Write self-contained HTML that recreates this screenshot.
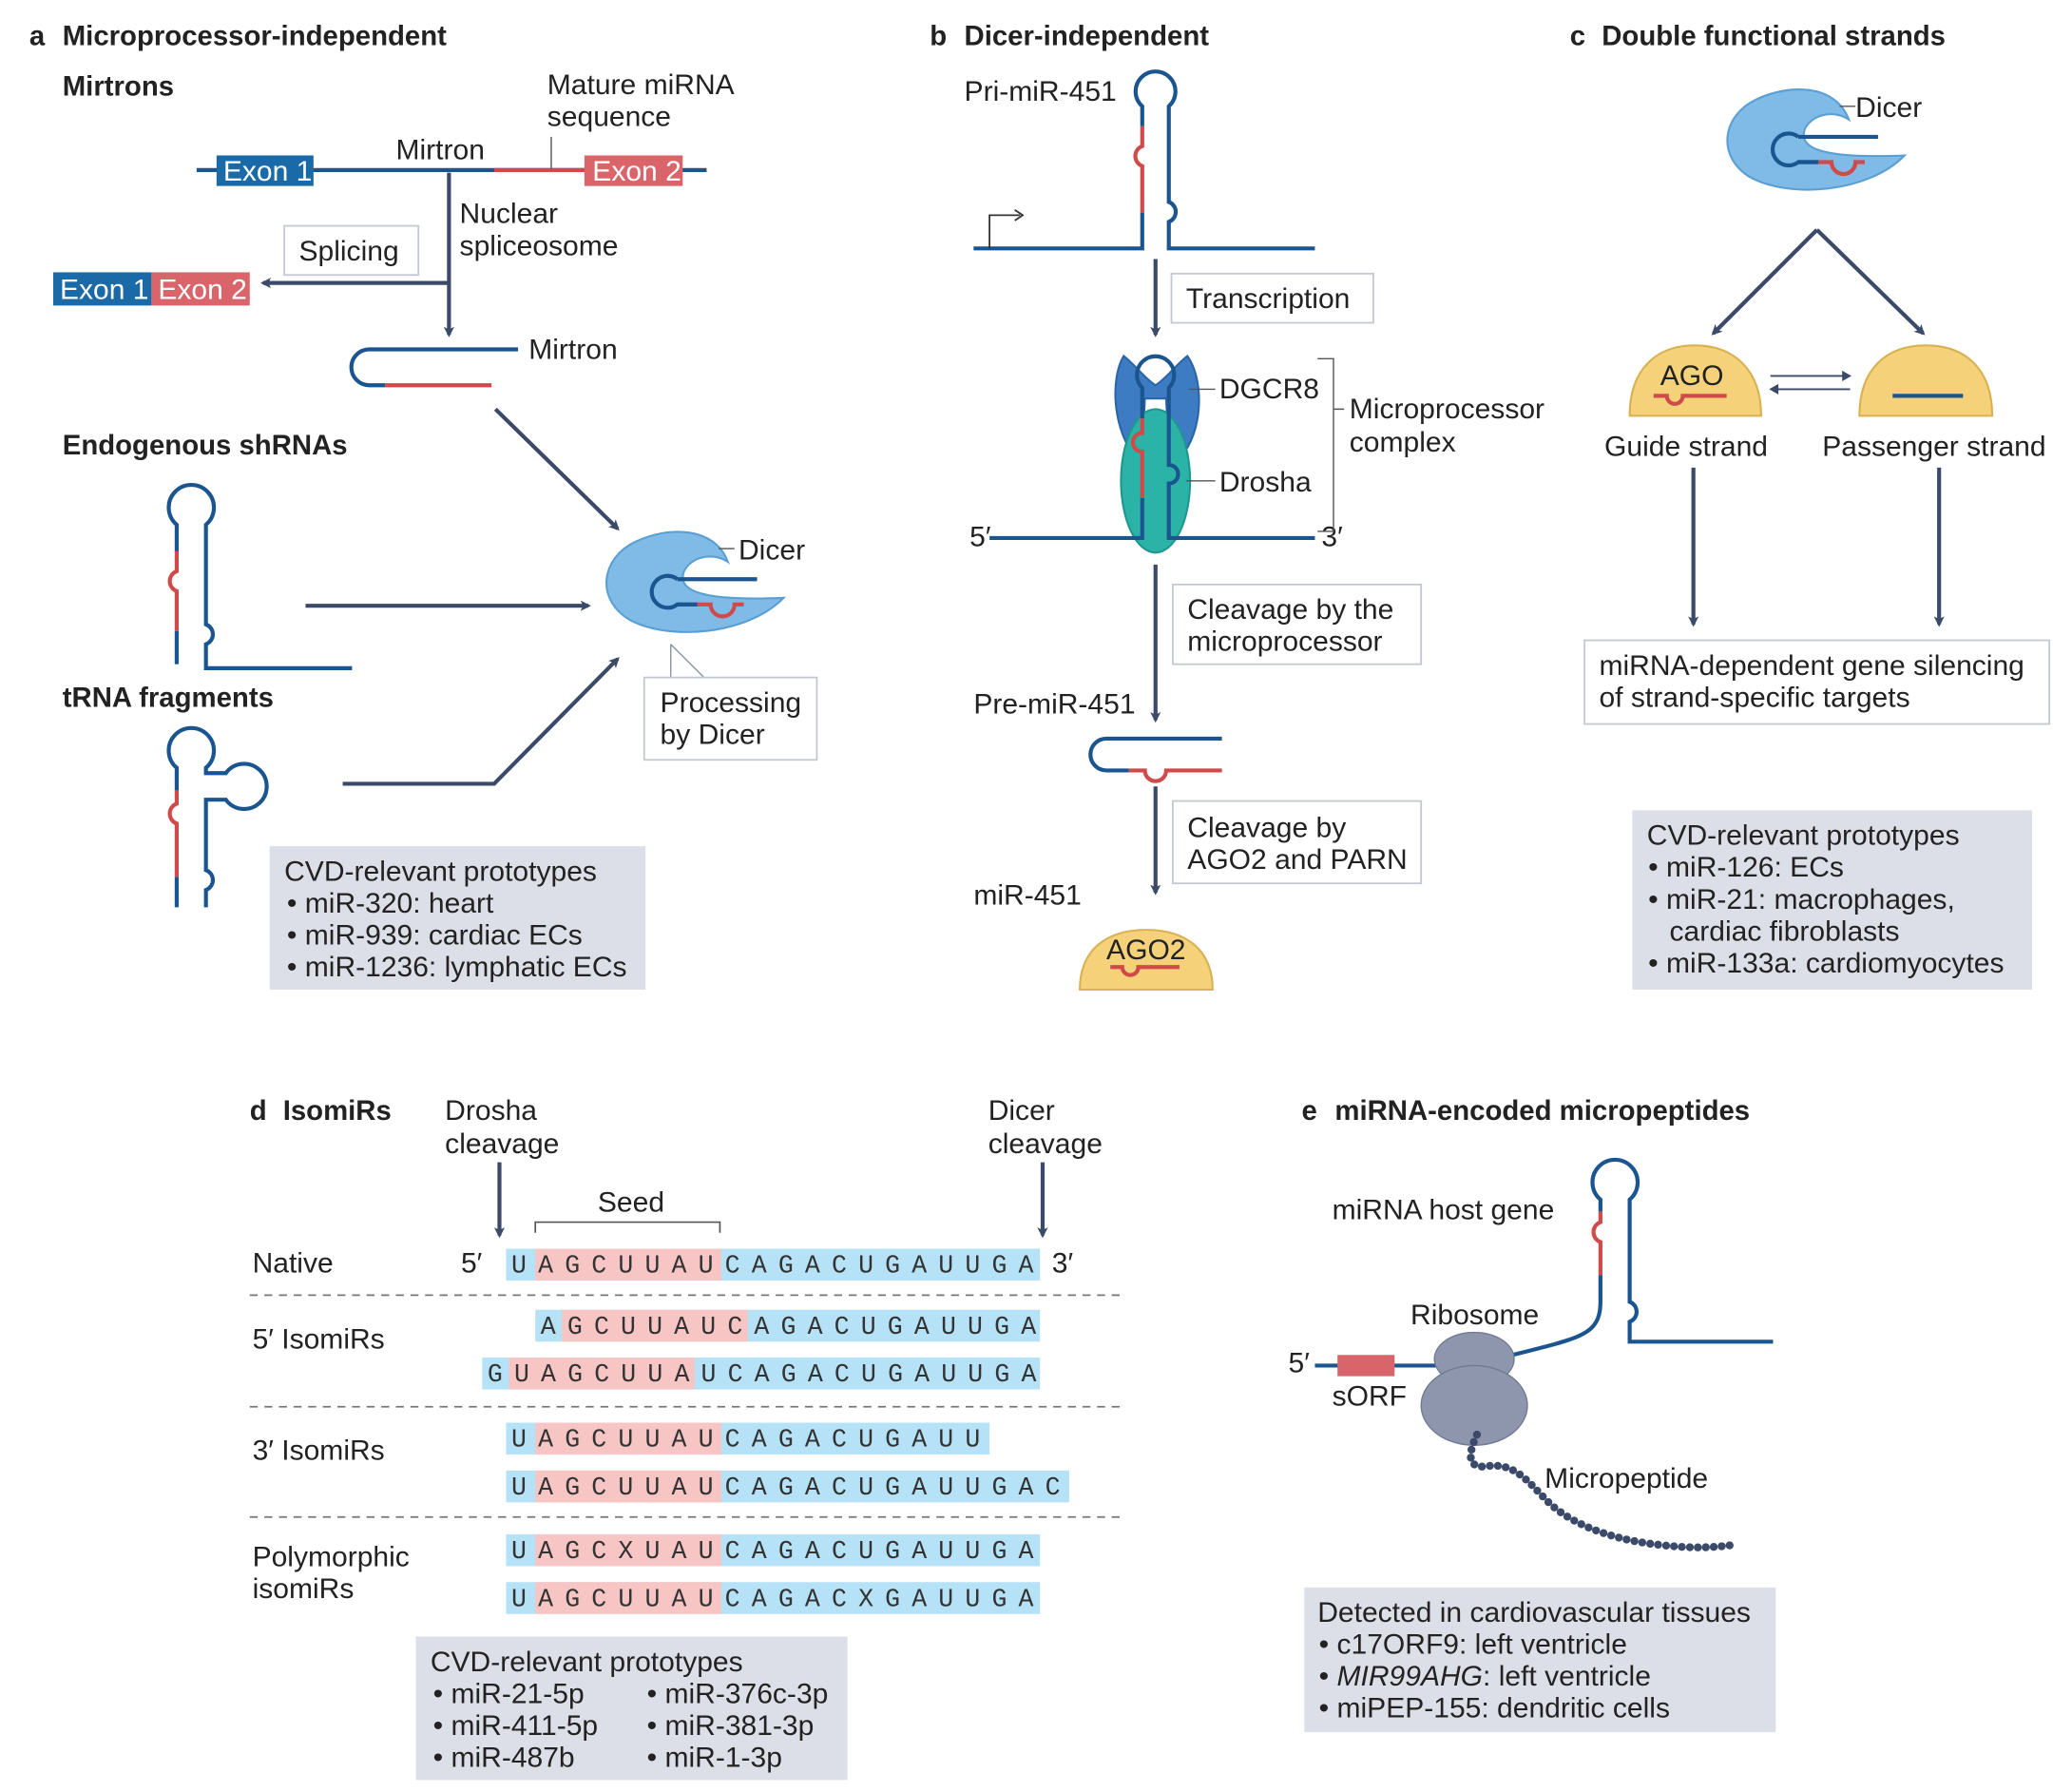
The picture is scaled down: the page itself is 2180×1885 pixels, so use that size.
<!DOCTYPE html>
<html><head><meta charset="utf-8"><style>
html,body{margin:0;padding:0;background:#fff}
svg{display:block}
text{font-family:"Liberation Sans",sans-serif;font-size:21.5px;fill:#222}
.b{font-weight:bold;font-size:21px}
.seq{font-family:"Liberation Mono",monospace;font-size:19px;letter-spacing:8.7px;fill:#333}
.bl{fill:none;stroke:#1b5590;stroke-width:3}
.rd{fill:none;stroke:#d04a4a;stroke-width:3}
.ar{fill:none;stroke:#3b4a68;stroke-width:3}
.bx{fill:#fff;stroke:#c4c8d2;stroke-width:1.3}
.gb{fill:#dcdfe7}
</style></head><body>
<svg width="2180" height="1885" viewBox="0 0 1560 1349" xmlns="http://www.w3.org/2000/svg">
<defs>
<marker id="ah" markerWidth="8" markerHeight="8" refX="6" refY="4" orient="auto" markerUnits="userSpaceOnUse" viewBox="0 0 8 8"><path d="M0,0 L8,4 L0,8 L2,4 Z" fill="#3b4a68"/></marker>
<g id="dicer">
<path d="M137,52 C110,80 50,85 20,68 C-5,52 0,22 25,10 C50,-2 85,-2 95,25 C85,18 68,20 62,32 C57,45 70,55 137,52 Z" fill="#7fbbe6" stroke="#5a9fd4" stroke-width="1.5"/>
<path d="M117,38 L57,38 M57,38 A12,12 0 1 0 57,57 L72,57" class="bl"/>
<path d="M72,57 L82,57 A9,9 0 0 0 100,57 L107,57" class="rd"/>
<path d="M57,57 L72,57" class="bl"/>
</g>
</defs>

<!-- Panel a -->
<text x="22" y="34" class="b">a</text><text x="47" y="34" class="b">Microprocessor-independent</text>
<text x="47" y="72" class="b">Mirtrons</text>
<line x1="148" y1="128" x2="532" y2="128" class="bl"/>
<line x1="372" y1="128" x2="440" y2="128" class="rd"/>
<rect x="163" y="117" width="73" height="23" fill="#1a6aa8"/><text x="168" y="136" style="fill:#fff">Exon 1</text>
<rect x="440" y="117" width="74" height="23" fill="#d9646a"/><text x="446" y="136" style="fill:#fff">Exon 2</text>
<text x="298" y="120">Mirtron</text>
<text x="412" y="71">Mature miRNA</text><text x="412" y="95">sequence</text>
<line x1="415" y1="103" x2="415" y2="127" stroke="#555" stroke-width="1"/>
<line x1="338" y1="130" x2="338" y2="252" class="ar" marker-end="url(#ah)"/>
<line x1="338" y1="213" x2="198" y2="213" class="ar" marker-end="url(#ah)"/>
<rect x="214" y="170" width="101" height="37" class="bx"/><text x="225" y="196">Splicing</text>
<text x="346" y="168">Nuclear</text><text x="346" y="192">spliceosome</text>
<rect x="40" y="205" width="74" height="25" fill="#1a6aa8"/><text x="45" y="225" style="fill:#fff">Exon 1</text>
<rect x="114" y="205" width="74" height="25" fill="#d9646a"/><text x="119" y="225" style="fill:#fff">Exon 2</text>
<path d="M390,263 L278,263 A13,13 0 0 0 278,290 L290,290" class="bl"/>
<line x1="290" y1="290" x2="370" y2="290" class="rd"/>
<text x="398" y="270">Mirtron</text>
<line x1="373" y1="308" x2="465" y2="398" class="ar" marker-end="url(#ah)"/>

<text x="47" y="342" class="b">Endogenous shRNAs</text>
<path d="M133,500 L133,475" class="bl"/>
<path d="M133,475 L133,445 A8,8 0 0 1 133,430 L133,415" class="rd"/>
<path d="M133,415 L133,395 A17,17 1 1 1 155,395 L155,470 A8,8 0 0 1 155,485 L155,503 L265,503" class="bl"/>
<line x1="230" y1="456" x2="443" y2="456" class="ar" marker-end="url(#ah)"/>

<text x="47" y="532" class="b">tRNA fragments</text>
<path d="M133,683 L133,660" class="bl"/>
<path d="M133,660 L133,620 A8,8 0 0 1 133,605 L133,595" class="rd"/>
<path d="M133,595 L133,578 A17,17 1 1 1 155,578 L155,582 L170,582 A17,17 0 1 1 170,602 L155,602 L155,655 A8,8 0 0 1 155,670 L155,683" class="bl"/>
<path d="M258,590 L372,590 L465,496" class="ar" marker-end="url(#ah)"/>

<use href="#dicer" x="453" y="398"/>
<line x1="541" y1="413" x2="553" y2="413" stroke="#555" stroke-width="1"/>
<text x="556" y="421">Dicer</text>
<path d="M505,485 L505,510 M505,485 L530,510" stroke="#8a93aa" stroke-width="1" fill="none"/>
<rect x="485" y="510" width="130" height="62" class="bx"/>
<text x="497" y="536">Processing</text><text x="497" y="560">by Dicer</text>
<rect x="203" y="637" width="283" height="108" class="gb"/>
<text x="214" y="663">CVD-relevant prototypes</text>
<text x="216" y="687">• miR-320: heart</text>
<text x="216" y="711">• miR-939: cardiac ECs</text>
<text x="216" y="735">• miR-1236: lymphatic ECs</text>

<!-- Panel b -->
<text x="700" y="34" class="b">b</text><text x="726" y="34" class="b">Dicer-independent</text>
<text x="726" y="76">Pri-miR-451</text>
<path d="M733,187 L860,187 L860,160" class="bl"/>
<path d="M860,160 L860,125 A8,8 0 0 1 860,110 L860,95" class="rd"/>
<path d="M860,95 L860,80 A15,15 1 1 1 880,80 L880,152 A8,8 0 0 1 880,167 L880,187 L990,187" class="bl"/>
<path d="M745,187 L745,162 L768,162" fill="none" stroke="#333" stroke-width="1.3"/><path d="M764,158 L770,162 L764,166" fill="none" stroke="#333" stroke-width="1.3"/>
<line x1="870" y1="195" x2="870" y2="252" class="ar" marker-end="url(#ah)"/>
<rect x="882" y="206" width="152" height="37" class="bx"/><text x="893" y="232">Transcription</text>
<path d="M846,268 C836,285 838,320 852,340 L860,340 L862,300 L878,300 L880,340 L892,340 C906,320 906,285 894,268 C885,275 878,285 870,290 C862,285 855,275 846,268 Z" fill="#3d7cc2" stroke="#2a65a8" stroke-width="1.5"/>
<ellipse cx="870" cy="362" rx="26" ry="54" fill="#2bb3a8" stroke="#1e978e" stroke-width="1.5"/>
<path d="M745,405 L860,405 L860,375" class="bl"/>
<path d="M860,375 L860,340 A7,7 0 0 1 860,326 L860,315" class="rd"/>
<path d="M860,315 L860,292 A14,14 1 1 1 880,292 L880,350 A7,7 0 0 1 880,364 L880,405 L990,405" class="bl"/>
<text x="730" y="411">5′</text><text x="995" y="411">3′</text>
<line x1="895" y1="293" x2="915" y2="293" stroke="#555" stroke-width="1"/><text x="918" y="300">DGCR8</text>
<line x1="893" y1="362" x2="915" y2="362" stroke="#555" stroke-width="1"/><text x="918" y="370">Drosha</text>
<path d="M992,270 L1004,270 L1004,400 L992,400 M1004,308 L1012,308" fill="none" stroke="#555" stroke-width="1"/>
<text x="1016" y="315">Microprocessor</text><text x="1016" y="340">complex</text>
<line x1="870" y1="425" x2="870" y2="542" class="ar" marker-end="url(#ah)"/>
<rect x="883" y="440" width="187" height="60" class="bx"/>
<text x="894" y="466">Cleavage by the</text><text x="894" y="490">microprocessor</text>
<text x="733" y="537">Pre-miR-451</text>
<path d="M920,556 L833,556 A12,12 0 0 0 833,580 L850,580" class="bl"/>
<path d="M850,580 L862,580 A8,8 0 0 0 878,580 L920,580" class="rd"/>
<line x1="870" y1="592" x2="870" y2="672" class="ar" marker-end="url(#ah)"/>
<rect x="883" y="603" width="187" height="62" class="bx"/>
<text x="894" y="630">Cleavage by</text><text x="894" y="654">AGO2 and PARN</text>
<text x="733" y="681">miR-451</text>
<path d="M813,745 L913,745 C913,715 893,700 863,700 C833,700 813,715 813,745 Z" fill="#f5d27a" stroke="#d9b052" stroke-width="1.5"/>
<text x="833" y="722">AGO2</text>
<path d="M836,728 L845,728 A6,6 0 0 0 857,728 L888,728" class="rd"/>

<!-- Panel c -->
<text x="1182" y="34" class="b">c</text><text x="1206" y="34" class="b">Double functional strands</text>
<use href="#dicer" x="1297" y="65"/>
<line x1="1385" y1="80" x2="1397" y2="80" stroke="#555" stroke-width="1"/>
<text x="1397" y="88">Dicer</text>
<line x1="1368" y1="173" x2="1290" y2="251" class="ar" marker-end="url(#ah)"/>
<line x1="1368" y1="173" x2="1448" y2="251" class="ar" marker-end="url(#ah)"/>
<path d="M1227,313 L1326,313 C1326,278 1305,260 1276,260 C1247,260 1227,278 1227,313 Z" fill="#f5d27a" stroke="#d9b052" stroke-width="1.5"/>
<text x="1250" y="290">AGO</text>
<path d="M1245,298 L1255,298 A6,6 0 0 0 1267,298 L1300,298" class="rd"/>
<path d="M1400,313 L1500,313 C1500,278 1480,260 1450,260 C1420,260 1400,278 1400,313 Z" fill="#f5d27a" stroke="#d9b052" stroke-width="1.5"/>
<line x1="1425" y1="298" x2="1478" y2="298" class="bl"/>
<line x1="1333" y1="283" x2="1393" y2="283" stroke="#3b4a68" stroke-width="1.3"/><path d="M1387,279 L1394,283 L1387,287" fill="#3b4a68"/>
<line x1="1333" y1="293" x2="1393" y2="293" stroke="#3b4a68" stroke-width="1.3"/><path d="M1339,289 L1332,293 L1339,297" fill="#3b4a68"/>
<text x="1208" y="343">Guide strand</text><text x="1372" y="343">Passenger strand</text>
<line x1="1275" y1="352" x2="1275" y2="470" class="ar" marker-end="url(#ah)"/>
<line x1="1460" y1="352" x2="1460" y2="470" class="ar" marker-end="url(#ah)"/>
<rect x="1193" y="482" width="350" height="63" class="bx"/>
<text x="1204" y="508">miRNA-dependent gene silencing</text><text x="1204" y="532">of strand-specific targets</text>
<rect x="1229" y="610" width="301" height="135" class="gb"/>
<text x="1240" y="636">CVD-relevant prototypes</text>
<text x="1241" y="660">• miR-126: ECs</text>
<text x="1241" y="684">• miR-21: macrophages,</text>
<text x="1257" y="708">cardiac fibroblasts</text>
<text x="1241" y="732">• miR-133a: cardiomyocytes</text>

<!-- Panel d -->
<text x="188" y="843" class="b">d</text><text x="213" y="843" class="b">IsomiRs</text>
<text x="335" y="843">Drosha</text><text x="335" y="868">cleavage</text>
<line x1="376" y1="875" x2="376" y2="930" class="ar" stroke-width="2" marker-end="url(#ah)"/>
<text x="744" y="843">Dicer</text><text x="744" y="868">cleavage</text>
<line x1="785" y1="875" x2="785" y2="930" class="ar" stroke-width="2" marker-end="url(#ah)"/>
<path d="M403,928 L403,920 L542,920 L542,928" fill="none" stroke="#555" stroke-width="1.2"/>
<text x="450" y="912">Seed</text>
<g stroke="#777" stroke-width="1.3" stroke-dasharray="6,5">
<line x1="188" y1="975" x2="848" y2="975"/><line x1="188" y1="1059" x2="848" y2="1059"/><line x1="188" y1="1142" x2="848" y2="1142"/>
</g>
<text x="190" y="958">Native</text><text x="347" y="958">5′</text><text x="792" y="958">3′</text>
<text x="190" y="1015">5′ IsomiRs</text>
<text x="190" y="1099">3′ IsomiRs</text>
<text x="190" y="1179">Polymorphic</text><text x="190" y="1203">isomiRs</text>

<rect x="381" y="940" width="402" height="24" fill="#b6e2f7"/><rect x="403" y="940" width="140" height="24" fill="#f7c6c4"/>
<text x="385" y="958" class="seq">UAGCUUAUCAGACUGAUUGA</text>
<rect x="403" y="986" width="380" height="24" fill="#b6e2f7"/><rect x="423" y="986" width="140" height="24" fill="#f7c6c4"/>
<text x="407" y="1004" class="seq">AGCUUAUCAGACUGAUUGA</text>
<rect x="363" y="1022" width="420" height="24" fill="#b6e2f7"/><rect x="383" y="1022" width="140" height="24" fill="#f7c6c4"/>
<text x="367" y="1040" class="seq">GUAGCUUAUCAGACUGAUUGA</text>
<rect x="381" y="1071" width="364" height="24" fill="#b6e2f7"/><rect x="403" y="1071" width="140" height="24" fill="#f7c6c4"/>
<text x="385" y="1089" class="seq">UAGCUUAUCAGACUGAUU</text>
<rect x="381" y="1107" width="424" height="24" fill="#b6e2f7"/><rect x="403" y="1107" width="140" height="24" fill="#f7c6c4"/>
<text x="385" y="1125" class="seq">UAGCUUAUCAGACUGAUUGAC</text>
<rect x="381" y="1155" width="402" height="24" fill="#b6e2f7"/><rect x="403" y="1155" width="140" height="24" fill="#f7c6c4"/>
<text x="385" y="1173" class="seq">UAGCXUAUCAGACUGAUUGA</text>
<rect x="381" y="1191" width="402" height="24" fill="#b6e2f7"/><rect x="403" y="1191" width="140" height="24" fill="#f7c6c4"/>
<text x="385" y="1209" class="seq">UAGCUUAUCAGACXGAUUGA</text>

<rect x="313" y="1232" width="325" height="108" class="gb"/>
<text x="324" y="1258">CVD-relevant prototypes</text>
<text x="326" y="1282">• miR-21-5p</text><text x="487" y="1282">• miR-376c-3p</text>
<text x="326" y="1306">• miR-411-5p</text><text x="487" y="1306">• miR-381-3p</text>
<text x="326" y="1330">• miR-487b</text><text x="487" y="1330">• miR-1-3p</text>

<!-- Panel e -->
<text x="980" y="843" class="b">e</text><text x="1005" y="843" class="b">miRNA-encoded micropeptides</text>
<text x="1003" y="918">miRNA host gene</text>
<path d="M990,1028 L1080,1028 C1110,1028 1140,1020 1170,1012 C1195,1005 1205,1000 1205,980 L1205,960" class="bl"/>
<path d="M1205,960 L1205,935 A8,8 0 0 1 1205,920 L1205,912" class="rd"/>
<path d="M1205,912 L1205,903 A17,17 1 1 1 1227,903 L1227,980 A8,8 0 0 1 1227,995 L1227,1010 L1335,1010" class="bl"/>
<rect x="1007" y="1020" width="43" height="16" fill="#d9646a"/>
<text x="970" y="1033">5′</text><text x="1003" y="1058">sORF</text>
<text x="1062" y="997">Ribosome</text>
<ellipse cx="1110" cy="1023" rx="30" ry="20" fill="#8e96ad" stroke="#717a92" stroke-width="1"/>
<ellipse cx="1110" cy="1058" rx="40" ry="30" fill="#8e96ad" stroke="#717a92" stroke-width="1"/>
<path d="M1112,1080 C1105,1095 1105,1105 1118,1104 C1140,1100 1150,1115 1165,1130 C1185,1150 1220,1160 1250,1163 C1275,1166 1290,1165 1305,1163" fill="none" stroke="#3b4a68" stroke-width="6" stroke-dasharray="0,6" stroke-linecap="round"/>
<text x="1163" y="1120">Micropeptide</text>
<rect x="982" y="1195" width="355" height="109" class="gb"/>
<text x="992" y="1221">Detected in cardiovascular tissues</text>
<text x="993" y="1245">• c17ORF9: left ventricle</text>
<text x="993" y="1269">• <tspan font-style="italic">MIR99AHG</tspan>: left ventricle</text>
<text x="993" y="1293">• miPEP-155: dendritic cells</text>
</svg>
</body></html>
